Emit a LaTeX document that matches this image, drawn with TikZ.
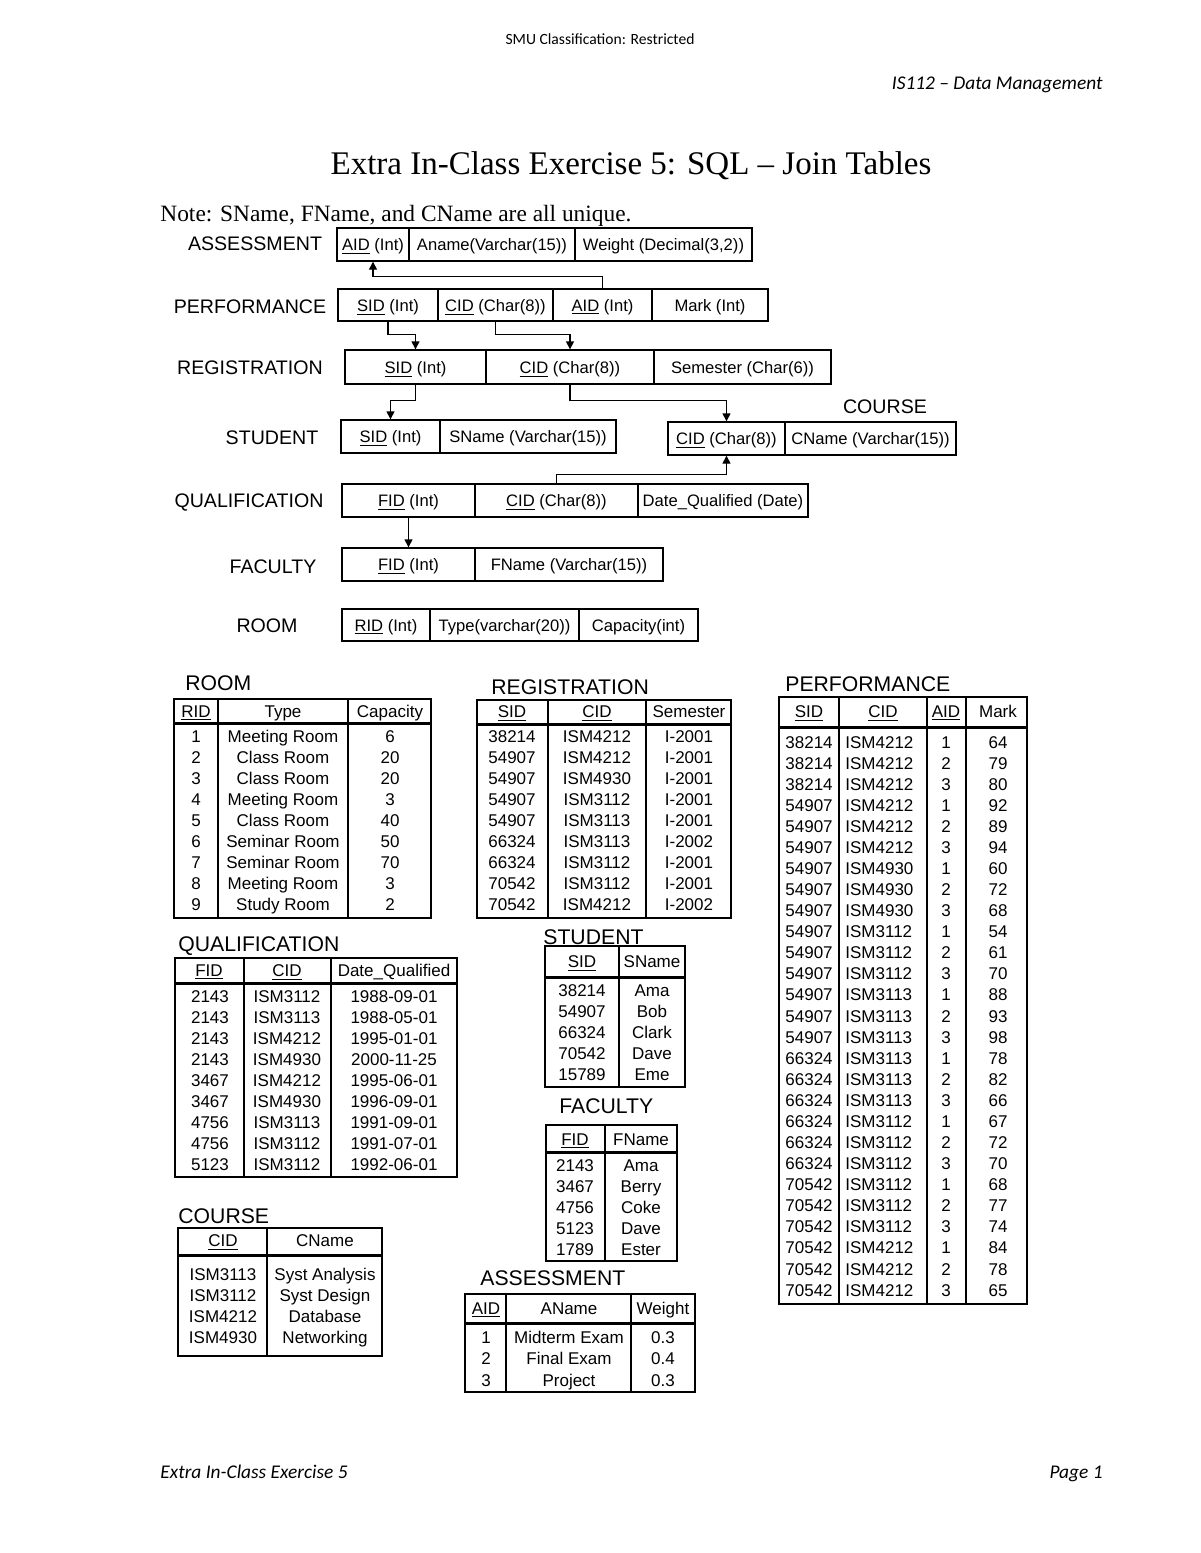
\documentclass[tikz,border=0pt]{standalone}
\usepackage{fontspec}
\setmainfont{Liberation Sans}
\newfontfamily\serif{Liberation Serif}
\newfontfamily\calib{Carlito}
\usetikzlibrary{arrows.meta}
\newcommand\skcell[6]{\node[cellbox, minimum width={(#4-#2)*0.5pt}, minimum height={(#5-#3)*0.5pt}] (#1) at ({(#2+#4)/2},{(#3+#5)/2}) {#6};}
\tikzset{
  cellbox/.style={draw, line width=0.7pt, inner sep=0pt, text height=7pt, text depth=1pt, font=\fontsize{8.3}{10}\selectfont},
  lbl/.style={anchor=base, inner sep=0pt, font=\fontsize{9.8}{12}\selectfont},
  ttl/.style={anchor=base west, inner sep=0pt, font=\fontsize{10.6}{12}\selectfont},
  td/.style={anchor=base, inner sep=0pt, font=\fontsize{8.5}{10}\selectfont},
  tdl/.style={td, anchor=base west},
  frame/.style={line width=0.7pt},
  hdr/.style={line width=1.5pt},
  fk/.style={line width=0.7pt, -{Triangle[length=4pt,width=4pt]}}
}
\begin{document}
\begin{tikzpicture}[x=0.5pt,y=-0.5pt]
\fill[white] (0,0) rectangle (1200,1553);
\useasboundingbox (0,0) rectangle (1200,1553);

% page header / footer
\node[anchor=base, inner sep=0pt, font=\calib\fontsize{7.8}{9}\selectfont] (cls) at (600,44) {SMU Classification: Restricted};
\node[anchor=base east, inner sep=0pt, font=\calib\itshape\fontsize{9.7}{11}\selectfont] (crs) at (1103,89) {IS112 – Data Management};
\node[anchor=base west, inner sep=0pt, font=\calib\itshape\fontsize{9.7}{11}\selectfont] (foot) at (160,1478) {Extra In-Class Exercise 5};
\node[anchor=base east, inner sep=0pt, font=\calib\itshape\fontsize{9.7}{11}\selectfont] (page) at (1103,1478) {Page 1};

% title and note
\node[anchor=base, inner sep=0pt, font=\serif\fontsize{16.5}{20}\selectfont] (title) at (631,174) {Extra In-Class Exercise 5: SQL – Join Tables};
\node[anchor=base west, inner sep=0pt, font=\serif\fontsize{11.7}{14}\selectfont] (note) at (160,221) {Note: SName, FName, and CName are all unique.};

% ---------------- schema ----------------
\node[lbl] (lA) at (255,250) {ASSESSMENT};
\skcell{aAID}{337}{228}{409}{261}{\underline{AID} (Int)}
\skcell{aName}{409}{228}{575}{261}{Aname(Varchar(15))}
\skcell{aW}{575}{228}{752}{261}{Weight (Decimal(3,2))}

\node[lbl] (lP) at (250,313) {PERFORMANCE};
\skcell{pSID}{338}{289}{438}{321}{\underline{SID} (Int)}
\skcell{pCID}{438}{289}{553}{321}{\underline{CID} (Char(8))}
\skcell{pAID}{553}{289}{652}{321}{\underline{AID} (Int)}
\skcell{pMark}{652}{289}{768}{321}{Mark (Int)}

\node[lbl] (lR) at (250,374) {REGISTRATION};
\skcell{rSID}{345}{350}{486}{384}{\underline{SID} (Int)}
\skcell{rCID}{486}{350}{654}{384}{\underline{CID} (Char(8))}
\skcell{rSem}{654}{350}{831}{384}{Semester (Char(6))}

\node[lbl] (lS) at (272,444) {STUDENT};
\skcell{sSID}{341}{420}{440}{453}{\underline{SID} (Int)}
\skcell{sName}{440}{420}{616}{453}{SName (Varchar(15))}

\node[lbl] (lC) at (885,413) {COURSE};
\skcell{cCID}{668}{422}{785}{455}{\underline{CID} (Char(8))}
\skcell{cName}{785}{422}{956}{455}{CName (Varchar(15))}

\node[lbl] (lQ) at (249,507) {QUALIFICATION};
\skcell{qFID}{342}{484}{475}{517}{\underline{FID} (Int)}
\skcell{qCID}{475}{484}{638}{517}{\underline{CID} (Char(8))}
\skcell{qDate}{638}{484}{808}{517}{Date\_Qualified (Date)}

\node[lbl] (lF) at (273,573) {FACULTY};
\skcell{fFID}{342}{548}{475}{581}{\underline{FID} (Int)}
\skcell{fName}{475}{548}{663}{581}{FName (Varchar(15))}

\node[lbl] (lM) at (267,632) {ROOM};
\skcell{mRID}{342}{609}{430}{641}{\underline{RID} (Int)}
\skcell{mType}{430}{609}{579}{641}{Type(varchar(20))}
\skcell{mCap}{579}{609}{698}{641}{Capacity(int)}

% foreign keys
\draw[fk] (pAID.north) -- ++(0,-12) -| (aAID.south);
\draw[fk] (pSID.south) -- ++(0,13) -| (rSID.north);
\draw[fk] (pCID.south) -- ++(0,13) -| (rCID.north);
\draw[fk] (rSID.south) -- ++(0,16) -| (sSID.north);
\draw[fk] (rCID.south) -- ++(0,16) -| (cCID.north);
\draw[fk] (qCID.north) -- ++(0,-9) -| (cCID.south);
\draw[fk] (qFID.south) -- (fFID.north);

% ---------------- ROOM table ----------------
\node[ttl] (tRoom) at (185,690) {ROOM};
\draw[frame] (174,699) rectangle (431,918);
\draw[hdr] (174,723) -- (431,723);
\draw[frame] (218,699) -- (218,918);
\draw[line width=1.2pt] (348,699) -- (348,918);
\node[td] (roomH1) at (196,717) {\underline{RID}};
\node[td] (roomH2) at (283,717) {Type};
\node[td] (roomH3) at (390,717) {Capacity};
\foreach \a/\b/\c [count=\i] in {1/Meeting Room/6, 2/Class Room/20, 3/Class Room/20, 4/Meeting Room/3, 5/Class Room/40, 6/Seminar Room/50, 7/Seminar Room/70, 8/Meeting Room/3, 9/Study Room/2}{
  \pgfmathsetmacro\yy{742+21.1*(\i-1)}
  \node[td] (roomA\i) at (196,\yy) {\a};
  \node[td] (roomB\i) at (283,\yy) {\b};
  \node[td] (roomC\i) at (390,\yy) {\c};
}

% ---------------- REGISTRATION table ----------------
\node[ttl] (tReg) at (491,694) {REGISTRATION};
\draw[frame] (477,700) rectangle (731,918);
\draw[hdr] (477,724) -- (731,724);
\draw[frame] (548,700) -- (548,918);
\draw[frame] (646,700) -- (646,918);
\node[td] (regH1) at (512,717) {\underline{SID}};
\node[td] (regH2) at (597,717) {\underline{CID}};
\node[td] (regH3) at (689,717) {Semester};
\foreach \a/\b/\c [count=\i] in {38214/ISM4212/I-2001, 54907/ISM4212/I-2001, 54907/ISM4930/I-2001, 54907/ISM3112/I-2001, 54907/ISM3113/I-2001, 66324/ISM3113/I-2002, 66324/ISM3112/I-2001, 70542/ISM3112/I-2001, 70542/ISM4212/I-2002}{
  \pgfmathsetmacro\yy{742+21.1*(\i-1)}
  \node[td] (regA\i) at (512,\yy) {\a};
  \node[td] (regB\i) at (597,\yy) {\b};
  \node[td] (regC\i) at (689,\yy) {\c};
}

% ---------------- PERFORMANCE table ----------------
\node[ttl] (tPerf) at (785,691) {PERFORMANCE};
\draw[frame] (779,697) rectangle (1027,1304);
\draw[hdr] (779,727) -- (1027,727);
\draw[frame] (839,697) -- (839,1304);
\draw[frame] (927,697) -- (927,1304);
\draw[line width=1.2pt] (966,697) -- (966,1304);
\node[td] (perfH1) at (809,717) {\underline{SID}};
\node[td] (perfH2) at (883,717) {\underline{CID}};
\node[td] (perfH3) at (946,717) {\underline{AID}};
\node[td] (perfH4) at (998,717) {Mark};
\foreach \a/\b/\c/\d [count=\i] in {38214/ISM4212/1/64, 38214/ISM4212/2/79, 38214/ISM4212/3/80, 54907/ISM4212/1/92, 54907/ISM4212/2/89, 54907/ISM4212/3/94, 54907/ISM4930/1/60, 54907/ISM4930/2/72, 54907/ISM4930/3/68, 54907/ISM3112/1/54, 54907/ISM3112/2/61, 54907/ISM3112/3/70, 54907/ISM3113/1/88, 54907/ISM3113/2/93, 54907/ISM3113/3/98, 66324/ISM3113/1/78, 66324/ISM3113/2/82, 66324/ISM3113/3/66, 66324/ISM3112/1/67, 66324/ISM3112/2/72, 66324/ISM3112/3/70, 70542/ISM3112/1/68, 70542/ISM3112/2/77, 70542/ISM3112/3/74, 70542/ISM4212/1/84, 70542/ISM4212/2/78, 70542/ISM4212/3/65}{
  \pgfmathsetmacro\yy{748+21.08*(\i-1)}
  \node[tdl] (perfA\i) at (785,\yy) {\a};
  \node[tdl] (perfB\i) at (845,\yy) {\b};
  \node[td] (perfC\i) at (946,\yy) {\c};
  \node[td] (perfD\i) at (998,\yy) {\d};
}

% ---------------- QUALIFICATION table ----------------
\node[ttl] (tQual) at (178,951) {QUALIFICATION};
\draw[frame] (175,958) rectangle (457,1177);
\draw[hdr] (175,983) -- (457,983);
\draw[frame] (244,958) -- (244,1177);
\draw[frame] (331,958) -- (331,1177);
\node[td] (qualH1) at (209,976) {\underline{FID}};
\node[td] (qualH2) at (287,976) {\underline{CID}};
\node[td] (qualH3) at (394,976) {Date\_Qualified};
\foreach \a/\b/\c [count=\i] in {2143/ISM3112/1988-09-01, 2143/ISM3113/1988-05-01, 2143/ISM4212/1995-01-01, 2143/ISM4930/2000-11-25, 3467/ISM4212/1995-06-01, 3467/ISM4930/1996-09-01, 4756/ISM3113/1991-09-01, 4756/ISM3112/1991-07-01, 5123/ISM3112/1992-06-01}{
  \pgfmathsetmacro\yy{1002+21.1*(\i-1)}
  \node[td] (qualA\i) at (210,\yy) {\a};
  \node[td] (qualB\i) at (287,\yy) {\b};
  \node[td] (qualC\i) at (394,\yy) {\c};
}

% ---------------- STUDENT table ----------------
\node[ttl] (tStu) at (543,944) {STUDENT};
\draw[frame] (545,946) rectangle (685,1087);
\draw[hdr] (545,977) -- (685,977);
\draw[frame] (619,946) -- (619,1087);
\node[td] (stuH1) at (582,967) {\underline{SID}};
\node[td] (stuH2) at (652,967) {SName};
\foreach \a/\b [count=\i] in {38214/Ama, 54907/Bob, 66324/Clark, 70542/Dave, 15789/Eme}{
  \pgfmathsetmacro\yy{996+21.2*(\i-1)}
  \node[td] (stuA\i) at (582,\yy) {\a};
  \node[td] (stuB\i) at (652,\yy) {\b};
}

% ---------------- FACULTY table ----------------
\node[ttl] (tFac) at (559,1113) {FACULTY};
\draw[frame] (546,1125) rectangle (677,1261);
\draw[hdr] (546,1152) -- (677,1152);
\draw[frame] (605,1125) -- (605,1261);
\node[td] (facH1) at (575,1145) {\underline{FID}};
\node[td] (facH2) at (641,1145) {FName};
\foreach \a/\b [count=\i] in {2143/Ama, 3467/Berry, 4756/Coke, 5123/Dave, 1789/Ester}{
  \pgfmathsetmacro\yy{1171+21.2*(\i-1)}
  \node[td] (facA\i) at (575,\yy) {\a};
  \node[td] (facB\i) at (641,\yy) {\b};
}

% ---------------- COURSE table ----------------
\node[ttl] (tCrs) at (178,1223) {COURSE};
\draw[frame] (178,1228) rectangle (382,1356);
\draw[hdr] (178,1255) -- (382,1255);
\draw[frame] (267,1228) -- (267,1356);
\node[td] (crsH1) at (223,1246) {\underline{CID}};
\node[td] (crsH2) at (325,1246) {CName};
\foreach \a/\b [count=\i] in {ISM3113/Syst Analysis, ISM3112/Syst Design, ISM4212/Database, ISM4930/Networking}{
  \pgfmathsetmacro\yy{1280+21.1*(\i-1)}
  \node[td] (crsA\i) at (223,\yy) {\a};
  \node[td] (crsB\i) at (325,\yy) {\b};
}

% ---------------- ASSESSMENT table ----------------
\node[ttl] (tAss) at (480,1285) {ASSESSMENT};
\draw[frame] (465,1294) rectangle (695,1392);
\draw[hdr] (465,1323) -- (695,1323);
\draw[frame] (506,1294) -- (506,1392);
\draw[frame] (631,1294) -- (631,1392);
\node[td] (assH1) at (486,1314) {\underline{AID}};
\node[td] (assH2) at (569,1314) {AName};
\node[td] (assH3) at (663,1314) {Weight};
\foreach \a/\b/\c [count=\i] in {1/Midterm Exam/0.3, 2/Final Exam/0.4, 3/Project/0.3}{
  \pgfmathsetmacro\yy{1343+21.5*(\i-1)}
  \node[td] (assA\i) at (486,\yy) {\a};
  \node[td] (assB\i) at (569,\yy) {\b};
  \node[td] (assC\i) at (663,\yy) {\c};
}
\end{tikzpicture}
\end{document}
